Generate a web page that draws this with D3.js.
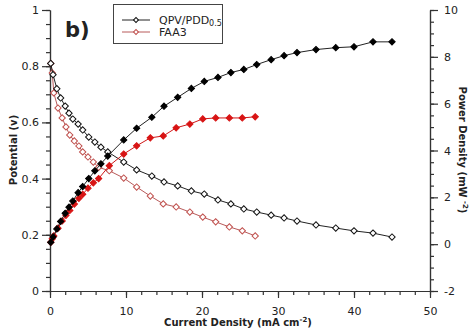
<!DOCTYPE html>
<meta charset="utf-8">
<style>
body { margin: 0; background: #fff; }
text { font-family: "DejaVu Sans", Verdana, sans-serif; fill: #222; }
.axis path, .axis line { stroke: #333; stroke-width: 1.2; }
.axis text { font-size: 11px; }
.title { font-size: 10px; font-weight: bold; }
</style>
<svg width="474" height="333"></svg>
<script src="https://d3js.org/d3.v7.min.js"></script>
<script>

// QPV/PDD0.5 membrane
var qpvCurrent   = [0.1, 0.4, 0.9, 1.4, 2.0, 2.5, 3.0, 3.7, 4.3, 5.1, 5.9, 6.7, 7.6, 9.7, 11.4, 13.4, 15.0, 16.8, 18.6, 20.3, 22.1, 23.8, 25.5, 27.2, 29.1, 30.8, 32.5, 35.0, 37.6, 40.0, 42.5, 45.0];
var qpvPotential = [0.81, 0.77, 0.72, 0.687, 0.658, 0.633, 0.612, 0.594, 0.573, 0.548, 0.530, 0.512, 0.495, 0.459, 0.431, 0.409, 0.388, 0.374, 0.356, 0.345, 0.324, 0.310, 0.292, 0.281, 0.270, 0.260, 0.249, 0.235, 0.224, 0.214, 0.206, 0.192];
var qpvPower     = [0.08, 0.31, 0.65, 0.97, 1.32, 1.58, 1.84, 2.2, 2.46, 2.8, 3.13, 3.43, 3.76, 4.45, 4.95, 5.42, 5.89, 6.27, 6.65, 6.95, 7.12, 7.33, 7.46, 7.67, 7.88, 8.05, 8.18, 8.31, 8.39, 8.43, 8.64, 8.64];

// FAA3 membrane
var faaCurrent   = [0.1, 0.3, 0.5, 1.05, 1.6, 2.1, 2.6, 3.2, 3.8, 4.3, 5.0, 5.7, 6.4, 7.8, 9.7, 11.4, 13.2, 14.9, 16.6, 18.4, 20.1, 21.8, 23.6, 25.3, 27.0];
var faaPotential = [0.81, 0.776, 0.705, 0.651, 0.616, 0.584, 0.555, 0.534, 0.516, 0.495, 0.477, 0.459, 0.44, 0.428, 0.402, 0.370, 0.338, 0.310, 0.299, 0.281, 0.263, 0.246, 0.228, 0.214, 0.196];
var faaPower     = [0.08, 0.23, 0.35, 0.68, 0.99, 1.23, 1.44, 1.71, 1.96, 2.13, 2.39, 2.62, 2.8, 3.35, 3.85, 4.2, 4.54, 4.62, 4.97, 5.13, 5.35, 5.39, 5.39, 5.39, 5.44];

var xTicks = [0, 10, 20, 30, 40, 50];
var vTicks = [0, 0.2, 0.4, 0.6, 0.8, 1];
var pTicks = [-2, 0, 2, 4, 6, 8, 10];

var svg = d3.select("svg");

var x = d3.scaleLinear().domain([0, 50]).range([50, 430]);
var yV = d3.scaleLinear().domain([0, 1]).range([291, 10]);
var yP = d3.scaleLinear().domain([-2, 10]).range([291, 10]);

function fmt(d) { return String(+d.toFixed(1)); }

// minor ticks first, then major ticks + labels
svg.append("g").attr("class", "axis").attr("transform", "translate(0,291)")
    .call(d3.axisBottom(x).tickValues(d3.range(0, 51, 2)).tickSize(4).tickSizeOuter(0).tickFormat(""));
svg.append("g").attr("class", "axis").attr("transform", "translate(0,291)")
    .call(d3.axisBottom(x).tickValues(xTicks).tickSize(7).tickSizeOuter(0).tickPadding(9).tickFormat(fmt));

svg.append("g").attr("class", "axis").attr("transform", "translate(50,0)")
    .call(d3.axisLeft(yV).tickValues(d3.range(0, 1.001, 0.05)).tickSize(4).tickSizeOuter(0).tickFormat(""));
svg.append("g").attr("class", "axis").attr("transform", "translate(50,0)")
    .call(d3.axisLeft(yV).tickValues(vTicks).tickSize(8).tickSizeOuter(0).tickPadding(3).tickFormat(fmt));

svg.append("g").attr("class", "axis").attr("transform", "translate(430,0)")
    .call(d3.axisRight(yP).tickValues(d3.range(-2, 10.01, 0.5)).tickSize(4).tickSizeOuter(0).tickFormat(""));
svg.append("g").attr("class", "axis").attr("transform", "translate(430,0)")
    .call(d3.axisRight(yP).tickValues(pTicks).tickSize(8).tickSizeOuter(0).tickPadding(6).tickFormat(fmt));

// axis titles
var xt = svg.append("text").attr("class", "title").attr("x", 238).attr("y", 326).attr("text-anchor", "middle");
xt.append("tspan").text("Current Density (mA cm");
xt.append("tspan").attr("dy", -4).attr("font-size", 7).text("-2");
xt.append("tspan").attr("dy", 4).text(")");

svg.append("text").attr("class", "title")
    .attr("transform", "translate(17,150) rotate(-90)")
    .attr("text-anchor", "middle").text("Potential (v)");

var yt = svg.append("text").attr("class", "title")
    .attr("transform", "translate(459,150) rotate(90)")
    .attr("text-anchor", "middle");
yt.append("tspan").text("Power Density (mW ");
yt.append("tspan").attr("dy", -4).attr("font-size", 7).text("-2");
yt.append("tspan").attr("dy", 4).text(")");

svg.append("text").attr("x", 65).attr("y", 37)
    .attr("font-size", 21).attr("font-weight", "bold").text("b)");

// markers are squares turned 45 degrees
var diamond = d3.symbol().type(d3.symbolSquare).size(20);

function series(cur, vals, yScale, lineColor, markColor, filled) {
  var pts = cur.map(function(c, i) { return [x(c), yScale(vals[i])]; });
  svg.append("path")
      .attr("d", d3.line()(pts))
      .attr("fill", "none")
      .attr("stroke", lineColor)
      .attr("stroke-width", 1);
  svg.append("g").selectAll("path")
    .data(pts)
    .enter().append("path")
      .attr("d", diamond)
      .attr("transform", function(p) { return "translate(" + p[0] + "," + p[1] + ") rotate(45)"; })
      .attr("fill", filled ? markColor : "#fff")
      .attr("stroke", markColor)
      .attr("stroke-width", 1);
}

series(faaCurrent, faaPotential, yV, "#b85a5a", "#c0504d", false);
series(qpvCurrent, qpvPotential, yV, "#222", "#111", false);
series(faaCurrent, faaPower, yP, "#d01818", "#d81414", true);
series(qpvCurrent, qpvPower, yP, "#222", "#000", true);

// legend
var lg = svg.append("g");
lg.append("rect").attr("x", 113.5).attr("y", 4.5).attr("width", 109).attr("height", 39)
    .attr("fill", "#fff").attr("stroke", "#444").attr("stroke-width", 1);
var legendItems = [
  { label: "QPV/PDD", sub: "0.5", line: "#222", mark: "#111", y: 20 },
  { label: "FAA3", sub: "", line: "#b85a5a", mark: "#c0504d", y: 32 }
];
legendItems.forEach(function(d) {
  lg.append("line").attr("x1", 122).attr("x2", 150).attr("y1", d.y).attr("y2", d.y)
      .attr("stroke", d.line).attr("stroke-width", 1);
  lg.append("path").attr("d", d3.symbol().type(d3.symbolSquare).size(12))
      .attr("transform", "translate(136," + d.y + ") rotate(45)")
      .attr("fill", "#fff").attr("stroke", d.mark);
  var t = lg.append("text").attr("x", 159).attr("y", d.y + 4).attr("font-size", 11);
  t.append("tspan").text(d.label);
  if (d.sub) t.append("tspan").attr("dy", 2).attr("font-size", 8).text(d.sub);
});

</script>
